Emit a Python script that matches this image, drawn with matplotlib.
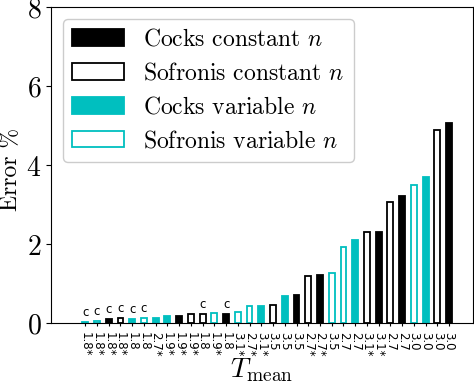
import numpy as np
import matplotlib
matplotlib.use("Agg")
import matplotlib.pyplot as plt

plt.rcParams['font.family'] = 'serif'
plt.rcParams['font.serif'] = ['cmr10']
plt.rcParams['mathtext.fontset'] = 'cm'
plt.rcParams['axes.formatter.use_mathtext'] = True

# errores por caso, ordenados de menor a mayor
errores = [0.04, 0.07, 0.11, 0.13, 0.11, 0.13, 0.14, 0.19, 0.19, 0.23, 0.25,
           0.27, 0.25, 0.28, 0.44, 0.45, 0.47, 0.69, 0.73, 1.20, 1.22, 1.27,
           1.94, 2.10, 2.31, 2.31, 3.08, 3.23, 3.50, 3.70, 4.89, 5.08]
# CC = Cocks constante, SC = Sofronis constante, CV = Cocks variable, SV = Sofronis variable
modelo = ['CV', 'SV', 'CC', 'SC', 'CV', 'SV', 'CV', 'CV', 'CC', 'SC', 'SC',
          'SV', 'CC', 'SV', 'SV', 'CV', 'SC', 'CV', 'CC', 'SC', 'CC', 'SV',
          'SV', 'CV', 'SC', 'CC', 'SC', 'CC', 'SV', 'CV', 'SC', 'CC']
etiquetas = ['1.8*', '1.8*', '1.8*', '1.8*', '1.8', '1.8', '2.7*', '1.9*',
             '1.9*', '1.9*', '1.8', '1.9*', '1.8', '3.1*', '2.7*', '3.1*',
             '3.5', '3.5', '3.5', '2.7*', '2.7*', '3.5', '2.7', '2.7',
             '3.1*', '3.1*', '2.7', '2.7', '3.0', '3.0', '3.0', '3.0']
marca_c = [1, 1, 1, 1, 1, 1, 0, 0, 0, 0, 1, 0, 1, 0, 0, 0,
           0, 0, 0, 0, 0, 0, 0, 0, 0, 0, 0, 0, 0, 0, 0, 0]

cian = '#00bfbf'
estilos = {
    'CC': dict(color='black', edgecolor='black', label='Cocks constant $n$'),
    'SC': dict(color='white', edgecolor='black', label='Sofronis constant $n$'),
    'CV': dict(color=cian, edgecolor=cian, label='Cocks variable $n$'),
    'SV': dict(color='white', edgecolor=cian, label='Sofronis variable $n$'),
}

x = np.arange(len(errores))
err = np.array(errores)
mod = np.array(modelo)

fig = plt.figure(figsize=(4.74, 3.85), dpi=100)
ax = fig.add_axes([0.108, 0.160, 0.889, 0.821])

for clave in ['CC', 'SC', 'CV', 'SV']:
    sel = mod == clave
    ax.bar(x[sel], err[sel], width=0.5, linewidth=1.3, **estilos[clave])

for xi, yi, c in zip(x, errores, marca_c):
    if c:
        ax.annotate('c', (xi, yi), xytext=(0, 2), textcoords='offset points',
                    ha='center', va='bottom', fontsize=8.5, family='DejaVu Sans')

ax.set_xlim(-2.9, 33.0)
ax.set_ylim(0, 8)
ax.set_yticks([0, 2, 4, 6, 8])
ax.tick_params(axis='y', labelsize=20)
ax.set_xticks(x)
ax.set_xticklabels(etiquetas, rotation=-90, fontsize=8.5, family='DejaVu Sans')
ax.tick_params(axis='x', length=2, pad=4.5)
ax.set_ylabel('Error %', fontsize=17)
ax.yaxis.set_label_coords(-0.068, 0.488)
ax.set_xlabel(r'$T_{\rm mean}$', fontsize=20)
ax.xaxis.set_label_coords(0.5, -0.104)

ax.legend(loc='upper left', fontsize=17, handlelength=2.2, framealpha=1,
          edgecolor='#cccccc', borderaxespad=0.5)

fig.savefig('out.png', dpi=100)
